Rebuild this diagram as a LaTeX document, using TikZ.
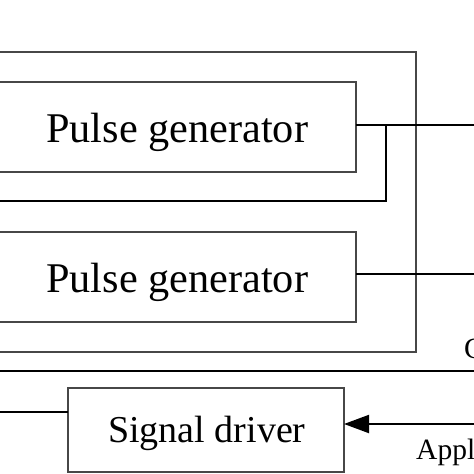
\documentclass[tikz,border=0pt]{standalone}
\usepackage{fontspec}
\setmainfont{Liberation Serif}
\usetikzlibrary{arrows.meta}
\begin{document}
\begin{tikzpicture}[x=1pt,y=-1pt,
  box/.style={draw=black!72,line width=1.4pt,inner sep=0pt,outer sep=0pt},
  wire/.style={line width=2pt,black},
  bigtext/.style={font=\fontsize{42.3}{50}\selectfont,inner sep=0pt,anchor=base west},
  midtext/.style={font=\fontsize{38}{44}\selectfont,inner sep=0pt,anchor=base west},
  smalltext/.style={font=\fontsize{29.5}{34}\selectfont,inner sep=0pt,anchor=base west}]
\useasboundingbox (0,0) rectangle (474,474);
\clip (0,0) rectangle (474,474);
\fill[white] (0,0) rectangle (474,474);
% boxes
\node[box,minimum width=420pt,minimum height=300pt] (outer) at (206,202) {};
\node[box,minimum width=360pt,minimum height=90pt] (pg1) at (176,127) {};
\node[box,minimum width=360pt,minimum height=90pt] (pg2) at (176,277) {};
\node[box,minimum width=276pt,minimum height=84pt] (sd) at (206,430) {};
% texts
\node[bigtext] (t1) at (46,142) {Pulse generator};
\node[bigtext] (t2) at (46,292) {Pulse generator};
\node[midtext] (t3) at (108,442) {Signal driver};
\node[smalltext] (tc) at (464,358) {C};
\node[smalltext] (ta) at (416,459) {Appl};
% wires
\coordinate (o1) at (480,125);
\coordinate (j1) at (386,125);
\coordinate (b1) at (-5,201);
\coordinate (o2) at (480,274);
\coordinate (busl) at (-5,371);
\coordinate (busr) at (480,371);
\coordinate (l3) at (-5,412);
\coordinate (r3) at (480,424);
\draw[wire] (pg1.east|-o1) -- (o1);
\draw[wire] (j1) |- (b1);
\draw[wire] (pg2.east|-o2) -- (o2);
\draw[wire] (busl) -- (busr);
\draw[wire] (l3) -- (sd.west|-l3);
\draw[wire,-{Triangle[length=25pt,width=18pt]}] (r3) -- (sd.east|-r3);
\end{tikzpicture}
\end{document}
